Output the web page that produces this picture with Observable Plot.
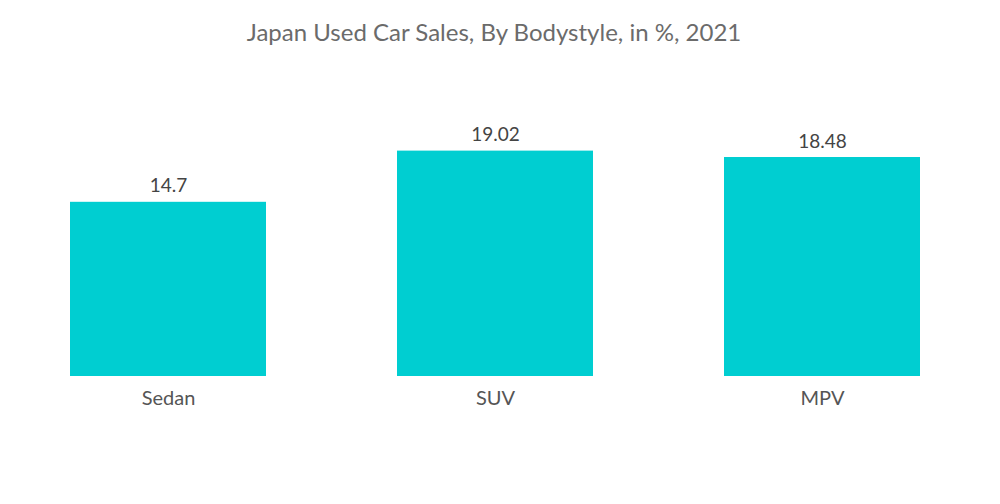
<!DOCTYPE html>
<html>
<head>
<meta charset="utf-8">
<script src="https://cdn.jsdelivr.net/npm/d3@7"></script>
<script src="https://cdn.jsdelivr.net/npm/@observablehq/plot@0.6"></script>
<style>
  html, body { margin: 0; padding: 0; background: #fff; }
  #title { height: 64px; width: 988px; padding-right: 12px; text-align: center; font-family: Lato, "Open Sans", sans-serif; font-size: 24px; color: #6b6b6b; line-height: 64px; }
  #chart svg { display: block; }
</style>
</head>
<body>
<div id="title">Japan Used Car Sales, By Bodystyle, in %, 2021</div>
<div id="chart"></div>
<script>
const categories = ["Sedan", "SUV", "MPV"];
const values = [14.7, 19.02, 18.48];
const valueLabels = ["14.7", "19.02", "18.48"];

const data = categories.map((c, i) => ({category: c, value: values[i], label: valueLabels[i]}));

const chart = Plot.plot({
  width: 1000,
  height: 440,
  marginTop: 75,
  marginBottom: 128,
  marginLeft: 3.5,
  marginRight: 14,
  style: {fontFamily: "Lato, 'Open Sans', sans-serif", background: "#fff"},
  x: {domain: categories, paddingInner: 0.4, paddingOuter: 0.2, label: null},
  y: {domain: [0, 20], axis: null},
  marks: [
    Plot.barY(data, {x: "category", y: "value", fill: "#00CED1"}),
    Plot.text(data, {x: "category", y: "value", text: "label", lineAnchor: "bottom", dy: -10, fontSize: 19, fill: "#444"}),
    Plot.axisX({tickSize: 0, tickPadding: 14, fontSize: 20, color: "#555", label: null})
  ]
});
document.getElementById("chart").appendChild(chart);
</script>
</body>
</html>
